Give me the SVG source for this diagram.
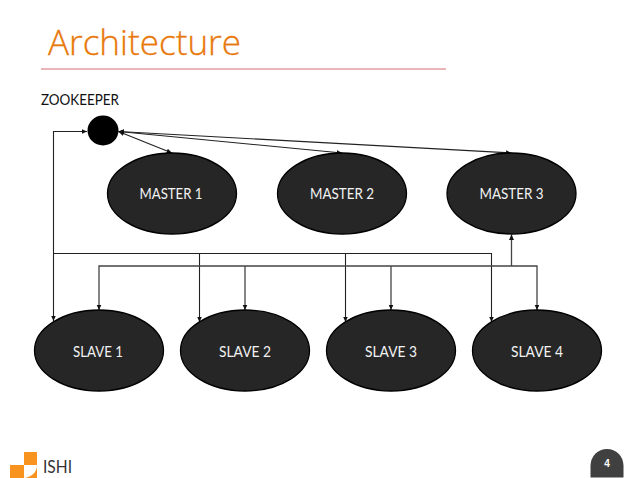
<svg xmlns="http://www.w3.org/2000/svg" width="638" height="478" viewBox="0 0 638 478">
<style>
.n{fill:#262626;stroke:#000;stroke-width:1.3}
.l{font-family:"Lato","Liberation Sans",sans-serif;font-size:14.5px;fill:#f2f2f2;text-anchor:middle}
.c{fill:none;stroke:#222;stroke-width:1.1}
.g{fill:none;stroke:#444;stroke-width:1.3}
</style>
<defs>
<marker id="a" markerUnits="userSpaceOnUse" markerWidth="7" markerHeight="7" refX="5.500" refY="3.500" orient="auto-start-reverse"><path d="M0 1L5.500 3.500L0 6Z" fill="#111"/></marker>
</defs>
<rect width="638" height="478" fill="#fff"/>
<text x="48" y="55" font-family="'Open Sans','Noto Sans',sans-serif" font-weight="300" font-size="35" fill="#e8780a" stroke="#e8780a" stroke-width="0.3" textLength="193" lengthAdjust="spacingAndGlyphs">Architecture</text>
<line x1="41" y1="69" x2="446" y2="69" stroke="#d66b78" stroke-width="1"/>
<text x="41" y="105" font-family="Lato,'Liberation Sans',sans-serif" font-size="14.500" fill="#111" textLength="78" lengthAdjust="spacingAndGlyphs">ZOOKEEPER</text>
<g id="connectors">
<path class="c" d="M118.500 131.500L172 153" marker-start="url(#a)" marker-end="url(#a)"/>
<path class="c" d="M118.500 131.500L342 153" marker-start="url(#a)" marker-end="url(#a)"/>
<path class="c" d="M118.500 131.500L511.500 153" marker-start="url(#a)" marker-end="url(#a)"/>
<path class="c" d="M87 131.500H53.500V321" marker-start="url(#a)" marker-end="url(#a)"/>
<path class="c" d="M53.500 253.500H491.500V322" marker-end="url(#a)"/>
<path class="c" d="M199.500 253.500V322" marker-end="url(#a)"/>
<path class="c" d="M345.500 253.500V322" marker-end="url(#a)"/>
<path class="g" d="M99 310V266H537V310" marker-start="url(#a)" marker-end="url(#a)"/>
<path class="g" d="M245 266V310" marker-end="url(#a)"/>
<path class="g" d="M391 266V310" marker-end="url(#a)"/>
<path class="g" d="M511.500 266V234.500" marker-end="url(#a)"/>
</g>
<g id="zookeeper"><ellipse cx="103" cy="130.500" rx="15.500" ry="15" fill="#000"/></g>
<g id="master1"><ellipse class="n" cx="172" cy="193.500" rx="64.500" ry="40.500"/><text class="l" x="171" y="199" textLength="63" lengthAdjust="spacingAndGlyphs">MASTER 1</text></g>
<g id="master2"><ellipse class="n" cx="342" cy="193.500" rx="64.500" ry="40.500"/><text class="l" x="342" y="199" textLength="64" lengthAdjust="spacingAndGlyphs">MASTER 2</text></g>
<g id="master3"><ellipse class="n" cx="511.500" cy="193.500" rx="64.500" ry="40.500"/><text class="l" x="511.500" y="199" textLength="64" lengthAdjust="spacingAndGlyphs">MASTER 3</text></g>
<g id="slave1"><ellipse class="n" cx="99" cy="350.500" rx="64.500" ry="40.500"/><text class="l" x="98" y="356.500" textLength="50" lengthAdjust="spacingAndGlyphs">SLAVE 1</text></g>
<g id="slave2"><ellipse class="n" cx="245" cy="350.500" rx="64.500" ry="40.500"/><text class="l" x="245" y="356.500" textLength="52" lengthAdjust="spacingAndGlyphs">SLAVE 2</text></g>
<g id="slave3"><ellipse class="n" cx="391" cy="350.500" rx="64.500" ry="40.500"/><text class="l" x="391" y="356.500" textLength="52" lengthAdjust="spacingAndGlyphs">SLAVE 3</text></g>
<g id="slave4"><ellipse class="n" cx="537" cy="350.500" rx="64.500" ry="40.500"/><text class="l" x="537" y="356.500" textLength="52" lengthAdjust="spacingAndGlyphs">SLAVE 4</text></g>
<path d="M24 452H37V478H10V465H24Z" fill="#f7931e"/>
<path d="M24 465H37C37 472 32 477 24 478Z" fill="#fff"/>
<text x="43" y="473" font-family="Lato,'Liberation Sans',sans-serif" font-size="17" fill="#333" textLength="29" lengthAdjust="spacingAndGlyphs">ISHI</text>
<path d="M590.500 477.500V465.500a16.500 16.500 0 0 1 33 0V477.500Z" fill="#404040"/>
<text x="607" y="467" font-family="'Liberation Sans',sans-serif" font-weight="700" font-size="10" fill="#fff" text-anchor="middle">4</text>
</svg>
